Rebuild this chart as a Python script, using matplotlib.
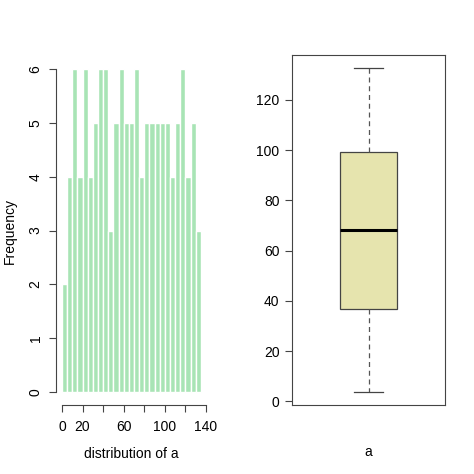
import numpy as np
import matplotlib.pyplot as plt

plt.rcParams['font.family'] = ['Liberation Sans', 'DejaVu Sans']

# histogram of a (bin width 5, 0..135)
bin_edges = np.arange(0, 140, 5)
counts = [2, 4, 6, 4, 6, 4, 5, 6, 6, 3, 5, 6, 5, 5, 6, 4, 5, 5, 5, 5, 5, 4, 5, 6, 4, 5, 3]
# box plot stats of a
box_stats = dict(whislo=3.7, q1=36.6, med=68.1, q3=99.2, whishi=132.6)
box_label = 'a'

fig = plt.figure(figsize=(4.74, 4.74), dpi=100)
ax1 = fig.add_axes([56.4 / 474, 69 / 474, 150 / 474, 349 / 474])
ax2 = fig.add_axes([292 / 474, 69 / 474, 153 / 474, 350 / 474])

# --- histogram ---
ax1.bar(bin_edges[:-1], counts, width=5, align='edge', color='#a8e4b5',
        edgecolor='white', linewidth=1.0)
ax1.set_xlim(-5.4, 140.4)
ax1.set_ylim(-0.24, 6.24)
for s in ['top', 'right']:
    ax1.spines[s].set_visible(False)
ax1.spines['left'].set_bounds(0, 6)
ax1.spines['bottom'].set_bounds(0, 140)
ax1.set_xticks(np.arange(0, 141, 20))
ax1.set_xticklabels(['0', '20', '', '60', '', '100', '', '140'])
ax1.set_yticks(range(7))
ax1.set_yticklabels([str(i) for i in range(7)], rotation=90, va='center')
ax1.set_ylabel('Frequency', fontsize=10, va='center')
ax1.yaxis.set_label_coords(-0.31, 0.5)
ax1.set_xlabel('distribution of a', fontsize=10, labelpad=9)

# --- boxplot ---
ax2.bxp([box_stats], positions=[1], widths=0.4, showfliers=False,
        patch_artist=True,
        boxprops=dict(facecolor='#e6e4ae', edgecolor='#444444', linewidth=0.9),
        medianprops=dict(color='black', linewidth=2.2),
        whiskerprops=dict(color='#555555', linestyle=(0, (4, 3)), linewidth=0.9),
        capprops=dict(color='#444444', linewidth=0.9))
ax2.set_xlim(0.46, 1.54)
ax2.set_ylim(-1.46, 137.8)
ax2.set_xticks([])
ax2.set_yticks(np.arange(0, 121, 20))
ax2.set_xlabel(box_label, fontsize=10, labelpad=29)
for s in ax2.spines.values():
    s.set_color('#444444')
    s.set_linewidth(0.8)

for ax in (ax1, ax2):
    ax.tick_params(labelsize=10, length=5, width=0.8, color='#444444', pad=4)
    for s in ['left', 'bottom']:
        ax.spines[s].set_color('#444444')
        ax.spines[s].set_linewidth(0.8)
ax1.tick_params(axis='x', pad=6)
ax1.tick_params(axis='y', pad=5)

fig.savefig('out.png', dpi=100)
